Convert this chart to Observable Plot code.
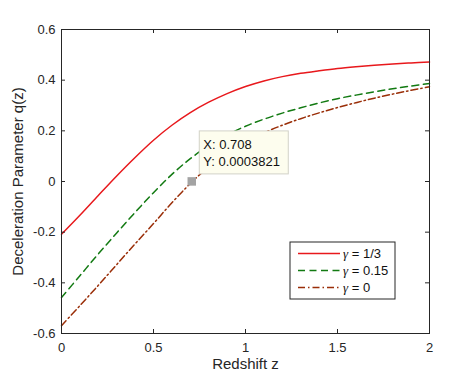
<!DOCTYPE html>
<html><head><meta charset="utf-8">
<script src="https://cdn.jsdelivr.net/npm/d3@7"></script>
<script src="https://cdn.jsdelivr.net/npm/@observablehq/plot@0.6"></script>
<style>body{margin:0;background:#fff} svg{display:block}</style>
</head><body><div id="chart"></div>
<script>
// ---- data ----
const z       = [0, 0.1, 0.2, 0.3, 0.4, 0.5, 0.6, 0.7, 0.8, 0.9, 1.0, 1.1, 1.2, 1.3, 1.4, 1.5, 1.6, 1.7, 1.8, 1.9, 2.0];
const qThird  = [-0.208, -0.133, -0.055, 0.022, 0.095, 0.163, 0.222, 0.272, 0.313, 0.347, 0.375, 0.397, 0.414, 0.427, 0.437, 0.446, 0.453, 0.459, 0.464, 0.468, 0.472];
const qMid    = [-0.458, -0.372, -0.286, -0.203, -0.122, -0.044, 0.028, 0.090, 0.142, 0.184, 0.218, 0.246, 0.270, 0.291, 0.310, 0.327, 0.341, 0.354, 0.366, 0.377, 0.387];
const qZero   = [-0.569, -0.490, -0.410, -0.328, -0.246, -0.166, -0.084, -0.008, 0.058, 0.112, 0.156, 0.192, 0.222, 0.248, 0.271, 0.292, 0.311, 0.329, 0.345, 0.360, 0.374];
const gammaLabels = ["1/3", "0.15", "0"];
const xTicks = [0, 0.5, 1, 1.5, 2];
const yTicks = [-0.6, -0.4, -0.2, 0, 0.2, 0.4, 0.6];
const markerZ = 0.708;
const markerQ = 0.0003821;
const xLabel = "Redshift z";
const yLabel = "Deceleration Parameter q(z)";

// ---- styles ----
const styles = [
  {stroke: "#e8181c", dash: null},
  {stroke: "#127a12", dash: "7,4.5"},
  {stroke: "#9a2e08", dash: "7,3,1.5,3"}
];
const series = [qThird, qMid, qZero];
const rows = series.map(s => z.map((zz, i) => ({z: zz, q: s[i]})));

const W = 474, H = 379, mt = 29, mr = 45, mb = 46, ml = 61;
const ph = H - mt - mb, pw = W - ml - mr;
const axisColor = "#262626";
const font = "'Liberation Sans', Arial, sans-serif";
const fmt = d => d === 0 ? "0" : String(+d.toFixed(1));

const chart = Plot.plot({
  width: W, height: H,
  marginTop: mt, marginRight: mr, marginBottom: mb, marginLeft: ml,
  style: {fontFamily: font, fontSize: "13px", color: axisColor, background: "#fff"},
  x: {domain: [0, 2]},
  y: {domain: [-0.6, 0.6]},
  marks: [
    ...rows.map((r, i) => Plot.line(r, {x: "z", y: "q", curve: "catmull-rom", stroke: styles[i].stroke, strokeWidth: 1.5, strokeDasharray: styles[i].dash})),
    Plot.frame({stroke: axisColor, strokeWidth: 1}),
    Plot.tickX(xTicks, {x: d => d, insetTop: ph - 4, stroke: axisColor}),
    Plot.tickX(xTicks, {x: d => d, insetBottom: ph - 4, stroke: axisColor}),
    Plot.tickY(yTicks, {y: d => d, insetRight: pw - 4, stroke: axisColor}),
    Plot.tickY(yTicks, {y: d => d, insetLeft: pw - 4, stroke: axisColor}),
    Plot.axisX(xTicks, {tickSize: 0, tickPadding: 9, tickFormat: fmt, label: null, fontSize: 13}),
    Plot.axisY(yTicks, {tickSize: 0, tickPadding: 6, tickFormat: fmt, label: null, fontSize: 13}),
    Plot.text([xLabel], {frameAnchor: "bottom", dy: 35, text: d => d, fontSize: 15, fill: axisColor}),
    Plot.text([yLabel], {frameAnchor: "left", dx: -43, rotate: -90, textAnchor: "middle", text: d => d, fontSize: 15, fill: axisColor}),
    Plot.dot([{z: markerZ, q: markerQ}], {x: "z", y: "q", symbol: "square", r: 4.8, fill: "#a3a3a3", stroke: "none"})
  ]
});
document.getElementById("chart").appendChild(chart);

// ---- data tip and legend, positioned from the scales ----
const svg = d3.select(chart);
const sx = chart.scale("x"), sy = chart.scale("y");
const px = sx.apply(markerZ), py = sy.apply(markerQ);
const tip = svg.append("g").attr("text-anchor", "start").attr("font-family", font).attr("font-size", 13);
tip.append("rect").attr("x", px + 8).attr("y", py - 50).attr("width", 89).attr("height", 43)
  .attr("fill", "#fdfdee").attr("stroke", "#d2d2c8").attr("stroke-width", 1);
tip.append("text").attr("x", px + 12).attr("y", py - 31.5).attr("fill", "#111").text("X: " + markerZ);
tip.append("text").attr("x", px + 12).attr("y", py - 14.5).attr("fill", "#111").text("Y: " + markerQ);

const fr = sx.range[1], fb = sy.range[0];
const lw = 105, lh = 57;
const lx = fr - 34 - lw, ly = fb - 34 - lh;
const leg = svg.append("g").attr("text-anchor", "start").attr("font-family", font).attr("font-size", 13);
leg.append("rect").attr("x", lx).attr("y", ly).attr("width", lw).attr("height", lh)
  .attr("fill", "#fff").attr("stroke", axisColor).attr("stroke-width", 1);
gammaLabels.forEach((g, i) => {
  const yy = ly + 11.5 + i * 17;
  leg.append("line").attr("x1", lx + 8).attr("x2", lx + 50).attr("y1", yy).attr("y2", yy)
    .attr("stroke", styles[i].stroke).attr("stroke-width", 1.5).attr("stroke-dasharray", styles[i].dash);
  const t = leg.append("text").attr("x", lx + 53).attr("y", yy + 4.5).attr("fill", "#111");
  t.append("tspan").attr("font-family", "'Liberation Serif', 'DejaVu Serif', serif").attr("font-style", "italic").text("γ");
  t.append("tspan").text(" = " + g);
});
</script>
</body></html>
